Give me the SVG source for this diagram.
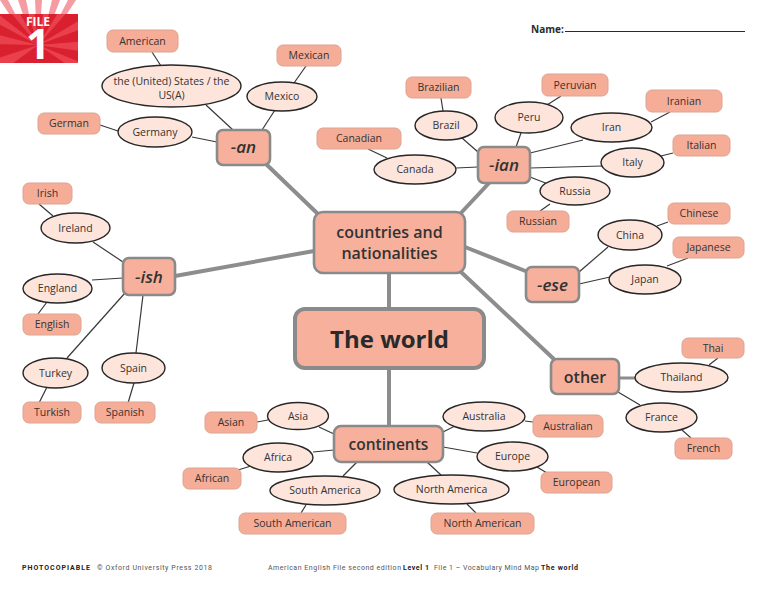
<svg xmlns="http://www.w3.org/2000/svg" width="768" height="594" viewBox="0 0 768 594">
<defs>
<style>
text{font-family:"Open Sans","Noto Sans","Liberation Sans",sans-serif;fill:#333;text-anchor:middle}
.el{fill:#fde5dc;stroke:#262626;stroke-width:1.4}
.lb{fill:#f6ad97;stroke:#dba492;stroke-width:1}
.hub{fill:#f7b09b;stroke:#8a8a8a;stroke-width:2.6}
.t{font-size:10.5px}
.thick{stroke:#8d8d8d;stroke-width:4;fill:none;stroke-linecap:round}
.thin{stroke:#383838;stroke-width:1.2;fill:none}
.suf{font-size:17px;font-style:italic;font-weight:600}
.hd{font-size:16px;font-weight:600}
.ft{font-family:Roboto,"Liberation Sans",sans-serif;font-size:7px;fill:#555;text-anchor:start}
</style>
<clipPath id="logoClip"><rect x="0" y="14" width="78" height="49"/></clipPath>
<clipPath id="topClip"><rect x="0" y="0" width="78" height="14"/></clipPath>
</defs>
<rect width="768" height="594" fill="#fff"/>

<!-- FILE logo -->
<g id="logo">
<g clip-path="url(#topClip)" fill="#f27a84" opacity="0.75">
<polygon points="38,58 0,0 8,0"/>
<polygon points="38,58 18,0 26,0"/>
<polygon points="38,58 35,0 42,0"/>
<polygon points="38,58 52,0 60,0"/>
<polygon points="38,58 68,0 76,0"/>
</g>
<rect x="0" y="14" width="78" height="49" fill="#d9202e"/>
<g clip-path="url(#logoClip)" fill="#ea3f4c">
<polygon points="38,45 -20,0 -20,14"/>
<polygon points="38,45 0,0 12,0"/>
<polygon points="38,45 24,0 33,0"/>
<polygon points="38,45 45,0 54,0"/>
<polygon points="38,45 66,0 78,0"/>
<polygon points="38,45 100,8 100,22"/>
<polygon points="38,45 100,40 100,54"/>
<polygon points="38,45 100,70 90,80"/>
<polygon points="38,45 -20,30 -20,44"/>
<polygon points="38,45 -20,64 -10,80"/>
</g>
<text x="38" y="25.5" style="font-family:'Open Sans',sans-serif;font-size:12px;font-weight:700;fill:#fff">FILE</text>
<text x="38" y="59" style="font-family:'Open Sans',sans-serif;font-size:42px;font-weight:700;fill:#fff">1</text>
</g>

<g id="name">
<text x="531" y="33" style="font-size:10px;font-weight:700;text-anchor:start;fill:#2a2a2a">Name:</text>
<line x1="565" y1="31.5" x2="745" y2="31.5" stroke="#2a2a2a" stroke-width="1"/>
</g>

<!-- connectors -->
<g id="connectors">
<line class="thick" x1="318" y1="214" x2="266" y2="164"/>
<line class="thick" x1="460" y1="214" x2="490" y2="182"/>
<line class="thick" x1="314" y1="251" x2="175" y2="276"/>
<line class="thick" x1="465" y1="247" x2="528" y2="272"/>
<line class="thick" x1="461" y1="272" x2="557" y2="362"/>
<line class="thick" x1="389" y1="273" x2="389" y2="309"/>
<line class="thick" x1="389" y1="368" x2="389" y2="426"/>
<line class="thick" x1="619" y1="378" x2="635" y2="378" style="stroke-width:3"/>

<line class="thin" x1="152" y1="52" x2="161" y2="66"/>
<line class="thin" x1="206" y1="105" x2="233" y2="130"/>
<line class="thin" x1="100" y1="125" x2="118" y2="131"/>
<line class="thin" x1="192" y1="137" x2="217" y2="142"/>
<line class="thin" x1="306" y1="66" x2="294" y2="83"/>
<line class="thin" x1="275" y1="110" x2="262" y2="130"/>
<line class="thin" x1="441" y1="98" x2="443" y2="111"/>
<line class="thin" x1="462" y1="138" x2="478" y2="152"/>
<line class="thin" x1="368" y1="149" x2="387" y2="158"/>
<line class="thin" x1="456" y1="168" x2="478" y2="167"/>
<line class="thin" x1="561" y1="96" x2="547" y2="105"/>
<line class="thin" x1="521" y1="133" x2="516" y2="147"/>
<line class="thin" x1="583" y1="140" x2="530" y2="153"/>
<line class="thin" x1="670" y1="112" x2="651" y2="122"/>
<line class="thin" x1="673" y1="153" x2="661" y2="156"/>
<line class="thin" x1="602" y1="166" x2="530" y2="168"/>
<line class="thin" x1="530" y1="177" x2="548" y2="184"/>
<line class="thin" x1="540" y1="211" x2="550" y2="204"/>
<line class="thin" x1="39" y1="204" x2="53" y2="216"/>
<line class="thin" x1="93" y1="242" x2="123" y2="262"/>
<line class="thin" x1="92" y1="280" x2="123" y2="278"/>
<line class="thin" x1="47" y1="302" x2="38" y2="314"/>
<line class="thin" x1="67" y1="358" x2="125" y2="293"/>
<line class="thin" x1="136" y1="353" x2="143" y2="295"/>
<line class="thin" x1="47" y1="387" x2="39" y2="403"/>
<line class="thin" x1="134" y1="383" x2="128" y2="403"/>
<line class="thin" x1="608" y1="247" x2="579" y2="272"/>
<line class="thin" x1="668" y1="222" x2="657" y2="226"/>
<line class="thin" x1="610" y1="277" x2="579" y2="284"/>
<line class="thin" x1="688" y1="258" x2="667" y2="266"/>
<line class="thin" x1="718" y1="358" x2="709" y2="365"/>
<line class="thin" x1="618" y1="392" x2="640" y2="405"/>
<line class="thin" x1="682" y1="430" x2="691" y2="438"/>
<line class="thin" x1="319" y1="427" x2="334" y2="434"/>
<line class="thin" x1="257" y1="422" x2="268" y2="420"/>
<line class="thin" x1="313" y1="452" x2="334" y2="450"/>
<line class="thin" x1="238" y1="470" x2="251" y2="466"/>
<line class="thin" x1="343" y1="476" x2="357" y2="462"/>
<line class="thin" x1="306" y1="505" x2="301" y2="513"/>
<line class="thin" x1="443" y1="432" x2="455" y2="426"/>
<line class="thin" x1="525" y1="421" x2="533" y2="422"/>
<line class="thin" x1="443" y1="447" x2="477" y2="453"/>
<line class="thin" x1="537" y1="467" x2="547" y2="473"/>
<line class="thin" x1="427" y1="462" x2="441" y2="475"/>
<line class="thin" x1="467" y1="504" x2="476" y2="513"/>
</g>

<!-- hubs -->
<g id="countries"><rect class="hub" x="314" y="212" width="151" height="61" rx="9"/><text class="hd" x="389.5" y="238">countries and</text><text class="hd" x="389.5" y="259">nationalities</text></g>
<g id="world"><rect class="hub" x="295" y="309" width="189" height="59" rx="10" style="stroke-width:4"/><text x="389.5" y="348" style="font-size:24px;font-weight:700;fill:#2a2a2a">The world</text></g>
<g id="continents"><rect class="hub" x="334" y="426" width="109" height="36" rx="7"/><text x="388.5" y="450" style="font-size:15.5px;font-weight:600">continents</text></g>
<g id="an"><rect class="hub" x="217" y="130" width="53" height="35" rx="6"/><text class="suf" x="243.5" y="153">-an</text></g>
<g id="ian"><rect class="hub" x="478" y="147" width="52" height="36" rx="6"/><text class="suf" x="504" y="171">-ian</text></g>
<g id="ish"><rect class="hub" x="123" y="258" width="52" height="37" rx="6"/><text class="suf" x="149" y="283">-ish</text></g>
<g id="ese"><rect class="hub" x="526" y="267" width="53" height="35" rx="6"/><text class="suf" x="552.5" y="291">-ese</text></g>
<g id="other"><rect class="hub" x="551" y="359" width="68" height="35" rx="6"/><text x="585" y="383" style="font-size:16px;font-weight:600">other</text></g>

<!-- countries (ellipses) -->
<g id="usa"><ellipse class="el" cx="171.5" cy="86" rx="69.5" ry="21"/><text class="t" x="171.5" y="85">the (United) States / the</text><text class="t" x="171.5" y="98.5">US(A)</text></g>
<g id="germany"><ellipse class="el" cx="155" cy="132" rx="37" ry="15"/><text class="t" x="155" y="135.7">Germany</text></g>
<g id="mexico"><ellipse class="el" cx="282" cy="96.5" rx="35" ry="14.5"/><text class="t" x="282" y="100.2">Mexico</text></g>
<g id="brazil"><ellipse class="el" cx="446" cy="125.5" rx="31" ry="14.5"/><text class="t" x="446" y="129.2">Brazil</text></g>
<g id="canada"><ellipse class="el" cx="415" cy="169.5" rx="41" ry="14.5"/><text class="t" x="415" y="173.2">Canada</text></g>
<g id="peru"><ellipse class="el" cx="529" cy="117.5" rx="34" ry="15.5"/><text class="t" x="529" y="121.2">Peru</text></g>
<g id="iran"><ellipse class="el" cx="611.5" cy="127.5" rx="40.5" ry="14.5"/><text class="t" x="611.5" y="131.2">Iran</text></g>
<g id="italy"><ellipse class="el" cx="632.5" cy="162.5" rx="31.5" ry="14.5"/><text class="t" x="632.5" y="166.2">Italy</text></g>
<g id="russia"><ellipse class="el" cx="575" cy="191" rx="35" ry="14"/><text class="t" x="575" y="194.7">Russia</text></g>
<g id="ireland"><ellipse class="el" cx="75.5" cy="228" rx="34.5" ry="15"/><text class="t" x="75.5" y="231.7">Ireland</text></g>
<g id="england"><ellipse class="el" cx="57.5" cy="288.5" rx="34.5" ry="14.5"/><text class="t" x="57.5" y="292.2">England</text></g>
<g id="turkey"><ellipse class="el" cx="55.5" cy="373" rx="32.5" ry="15"/><text class="t" x="55.5" y="376.7">Turkey</text></g>
<g id="spain"><ellipse class="el" cx="133.5" cy="368" rx="31.5" ry="15"/><text class="t" x="133.5" y="371.7">Spain</text></g>
<g id="china"><ellipse class="el" cx="630" cy="235" rx="32" ry="15"/><text class="t" x="630" y="238.7">China</text></g>
<g id="japan"><ellipse class="el" cx="645" cy="279.5" rx="36" ry="14.5"/><text class="t" x="645" y="283.2">Japan</text></g>
<g id="thailand"><ellipse class="el" cx="681.5" cy="377.5" rx="46.5" ry="14.5"/><text class="t" x="681.5" y="381.2">Thailand</text></g>
<g id="france"><ellipse class="el" cx="661.5" cy="417.5" rx="35.5" ry="14.5"/><text class="t" x="661.5" y="421.2">France</text></g>
<g id="asia"><ellipse class="el" cx="298" cy="416" rx="30.5" ry="13.5"/><text class="t" x="298" y="419.7">Asia</text></g>
<g id="africa"><ellipse class="el" cx="278" cy="457.5" rx="35" ry="14.5"/><text class="t" x="278" y="461.2">Africa</text></g>
<g id="samerica"><ellipse class="el" cx="325" cy="490.5" rx="55" ry="14.5"/><text class="t" x="325" y="494.2">South America</text></g>
<g id="namerica"><ellipse class="el" cx="451.5" cy="489.5" rx="57.5" ry="14.5"/><text class="t" x="451.5" y="493.2">North America</text></g>
<g id="australia"><ellipse class="el" cx="484" cy="416.5" rx="41" ry="14.5"/><text class="t" x="484" y="420.2">Australia</text></g>
<g id="europe"><ellipse class="el" cx="512.5" cy="456.5" rx="35.5" ry="14.5"/><text class="t" x="512.5" y="460.2">Europe</text></g>

<!-- nationalities (labels) -->
<g id="american"><rect class="lb" x="107" y="30" width="71" height="22" rx="6"/><text class="t" x="142.5" y="44.7">American</text></g>
<g id="mexican"><rect class="lb" x="277" y="45" width="64" height="21" rx="6"/><text class="t" x="309" y="59.2">Mexican</text></g>
<g id="german"><rect class="lb" x="38" y="113" width="62" height="21" rx="6"/><text class="t" x="69" y="127.2">German</text></g>
<g id="brazilian"><rect class="lb" x="406" y="77" width="65" height="21" rx="6"/><text class="t" x="438.5" y="91.2">Brazilian</text></g>
<g id="canadian"><rect class="lb" x="317" y="128" width="84" height="21" rx="6"/><text class="t" x="359" y="142.2">Canadian</text></g>
<g id="peruvian"><rect class="lb" x="542" y="74" width="66" height="22" rx="6"/><text class="t" x="575" y="88.7">Peruvian</text></g>
<g id="iranian"><rect class="lb" x="646" y="90" width="76" height="22" rx="6"/><text class="t" x="684" y="104.7">Iranian</text></g>
<g id="italian"><rect class="lb" x="673" y="135" width="57" height="21" rx="6"/><text class="t" x="701.5" y="149.2">Italian</text></g>
<g id="russian"><rect class="lb" x="507" y="211" width="62" height="21" rx="6"/><text class="t" x="538" y="225.2">Russian</text></g>
<g id="irish"><rect class="lb" x="23" y="183" width="49" height="21" rx="6"/><text class="t" x="47.5" y="197.2">Irish</text></g>
<g id="english"><rect class="lb" x="23" y="314" width="58" height="21" rx="6"/><text class="t" x="52" y="328.2">English</text></g>
<g id="turkish"><rect class="lb" x="23" y="402" width="58" height="21" rx="6"/><text class="t" x="52" y="416.2">Turkish</text></g>
<g id="spanish"><rect class="lb" x="95" y="402" width="60" height="21" rx="6"/><text class="t" x="125" y="416.2">Spanish</text></g>
<g id="chinese"><rect class="lb" x="668" y="203" width="62" height="21" rx="6"/><text class="t" x="699" y="217.2">Chinese</text></g>
<g id="japanese"><rect class="lb" x="673" y="237" width="71" height="21" rx="6"/><text class="t" x="708.5" y="251.2">Japanese</text></g>
<g id="thai"><rect class="lb" x="682" y="338" width="62" height="20" rx="6"/><text class="t" x="713" y="351.7">Thai</text></g>
<g id="french"><rect class="lb" x="675" y="438" width="57" height="21" rx="6"/><text class="t" x="703.5" y="452.2">French</text></g>
<g id="australian"><rect class="lb" x="533" y="415" width="70" height="22" rx="6"/><text class="t" x="568" y="429.7">Australian</text></g>
<g id="european"><rect class="lb" x="541" y="472" width="71" height="21" rx="6"/><text class="t" x="576.5" y="486.2">European</text></g>
<g id="northamerican"><rect class="lb" x="431" y="513" width="103" height="21" rx="6"/><text class="t" x="482.5" y="527.2">North American</text></g>
<g id="southamerican"><rect class="lb" x="239" y="513" width="107" height="21" rx="6"/><text class="t" x="292.5" y="527.2">South American</text></g>
<g id="asian"><rect class="lb" x="205" y="412" width="52" height="21" rx="6"/><text class="t" x="231" y="426.2">Asian</text></g>
<g id="african"><rect class="lb" x="183" y="468" width="58" height="21" rx="6"/><text class="t" x="212" y="482.2">African</text></g>

<!-- footer -->
<g id="footer">
<text class="ft" x="22" y="570" style="font-weight:700;fill:#222" textLength="68">PHOTOCOPIABLE</text>
<text class="ft" x="97" y="570" textLength="115">© Oxford University Press 2018</text>
<text class="ft" x="268" y="570" textLength="133">American English File second edition</text>
<text class="ft" x="403" y="570" style="font-weight:700;fill:#222" textLength="26">Level 1</text>
<text class="ft" x="434" y="570" textLength="105">File 1 – Vocabulary Mind Map</text>
<text class="ft" x="541" y="570" style="font-weight:700;fill:#222" textLength="37">The world</text>
</g>
</svg>
